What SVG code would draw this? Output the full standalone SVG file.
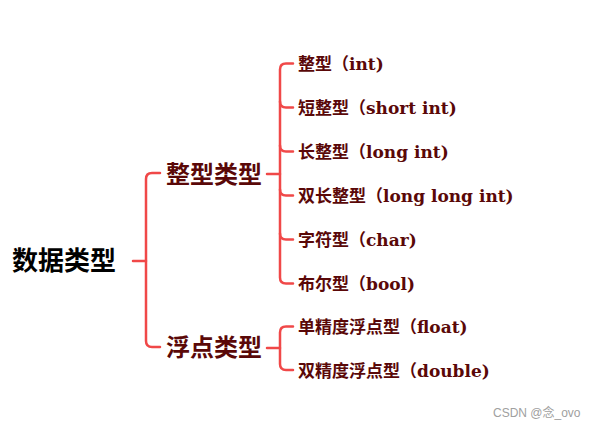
<svg xmlns="http://www.w3.org/2000/svg" width="596" height="428" viewBox="0 0 596 428">
<style>
.ln{fill:none;stroke:#f04848;stroke-width:2.5;stroke-linecap:round}
.root{font-family:"Noto Sans CJK SC",sans-serif;font-weight:bold;font-size:26px;fill:#000}
.cat{font-family:"Noto Sans CJK SC",sans-serif;font-weight:bold;font-size:24px;fill:#5a0808}
.item{font-family:"DejaVu Serif","Noto Sans CJK SC",serif;font-weight:bold;font-size:17px;fill:#5a0808}
.wm{font-family:"Liberation Sans","Noto Sans CJK SC",sans-serif;font-size:12px;fill:#a0a0a0}
</style>
<rect width="596" height="428" fill="#fff"/>
<g id="connectors">
<path class="ln" d="M133,261 H146"/>
<path class="ln" d="M160,173 H152 Q146,173 146,179 V341 Q146,347 152,347 H160"/>
<path class="ln" d="M267,174 H280"/>
<path class="ln" d="M293,63.5 H286 Q280,63.5 280,69.5 V277.5 Q280,283.5 286,283.5 H293"/>
<path class="ln" d="M280,101.5 Q280,107.5 286,107.5 H293"/>
<path class="ln" d="M280,145.5 Q280,151.5 286,151.5 H293"/>
<path class="ln" d="M280,189.5 Q280,195.5 286,195.5 H293"/>
<path class="ln" d="M280,233.5 Q280,239.5 286,239.5 H293"/>
<path class="ln" d="M267,348 H280"/>
<path class="ln" d="M293,326.5 H286 Q280,326.5 280,332.5 V364 Q280,370 286,370 H293"/>
</g>
<g id="root"><text class="root" x="12" y="270">数据类型</text></g>
<g id="int-types"><text class="cat" x="166" y="183">整型类型</text></g>
<g id="float-types"><text class="cat" x="166" y="356">浮点类型</text></g>
<g id="int"><text class="item" x="298" y="70">整型（int)</text></g>
<g id="short"><text class="item" x="298" y="114">短整型（short int)</text></g>
<g id="long"><text class="item" x="298" y="158">长整型（long int)</text></g>
<g id="longlong"><text class="item" x="298" y="202">双长整型（long long int)</text></g>
<g id="char"><text class="item" x="298" y="246">字符型（char)</text></g>
<g id="bool"><text class="item" x="298" y="290">布尔型（bool)</text></g>
<g id="float"><text class="item" x="298" y="333">单精度浮点型（float)</text></g>
<g id="double"><text class="item" x="298" y="376.5">双精度浮点型（double)</text></g>
<text class="wm" x="493" y="417">CSDN @念_ovo</text>
</svg>
